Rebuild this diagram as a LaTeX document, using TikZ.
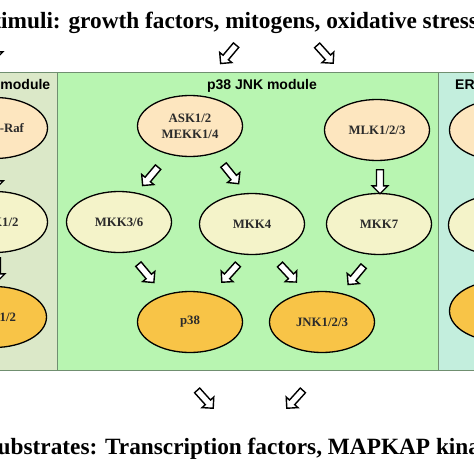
\documentclass[tikz,border=0pt]{standalone}
\usepackage{fontspec}
\setmainfont{Liberation Serif}
\newfontfamily\sansf{Liberation Sans}
\usetikzlibrary{shapes.geometric,shapes.arrows}
\definecolor{peach}{HTML}{FDE6BF}
\definecolor{paleyel}{HTML}{F4F3C9}
\definecolor{orangey}{HTML}{F8C447}
\definecolor{panmid}{HTML}{B8F5B1}
\definecolor{panleft}{HTML}{DBE8C8}
\definecolor{panright}{HTML}{C3EEDD}
\definecolor{panborder}{HTML}{708F70}
\definecolor{txtdark}{HTML}{2B2B2B}
\tikzset{
  ell/.style={ellipse, draw=black, line width=1.3pt, minimum width=105pt, minimum height=61pt,
    inner sep=0pt, font=\fontsize{12.8}{16}\selectfont\bfseries, text=txtdark, align=center},
  topn/.style={ell, fill=peach},
  midn/.style={ell, fill=paleyel},
  botn/.style={ell, fill=orangey},
  blk/.style={single arrow, draw=black, line width=1.4pt, fill=white, minimum height=24pt,
    inner sep=0pt, inner ysep=2.8pt, single arrow head extend=4.4pt},
  panel/.style={draw=panborder, line width=0.8pt},
  ptitle/.style={font=\sansf\fontsize{14}{16}\selectfont\bfseries, inner sep=0pt, anchor=base},
  bigtxt/.style={font=\fontsize{23.3}{26}\selectfont\bfseries, inner sep=0pt, anchor=base west}
}
\begin{document}
\begin{tikzpicture}[x=1pt,y=-1pt]
\useasboundingbox (0,0) rectangle (474,474);
\clip (0,0) rectangle (474,474);
\fill[white] (0,0) rectangle (474,474);
% panels
\filldraw[panel, fill=panleft] (-20,72) rectangle (57,370);
\filldraw[panel, fill=panmid] (57,72) rectangle (438,370);
\filldraw[panel, fill=panright] (438,72) rectangle (500,370);
% titles
\node[bigtxt] (stim) at (1,28) {\llap{St}imuli: growth factors, mitogens, oxidative stress};
\node[bigtxt] (subs) at (-2.5,454) {\llap{S}ubstrates: Transcription factors, MAPKAP kinases};
\node[ptitle] (tmid) at (262,89) {p38 JNK module};
\node[ptitle, anchor=base west] (tl) at (0.3,89) {\llap{ERK1/2 }module};
\node[ptitle, anchor=base west] (tr) at (455,89) {ERK5 module};
% left module nodes
\node[topn] (craf) at (-5,128) {\hspace*{28pt}c-Raf};
\node[midn] (mek) at (-5,222) {MEK1/2};
\node[botn] (erk) at (-6,317) {ERK1/2};
% middle module nodes
\node[topn] (ask) at (190,126) {ASK1/2\\MEKK1/4};
\node[topn] (mlk) at (377,130) {MLK1/2/3};
\node[midn] (mkk36) at (119,222) {MKK3/6};
\node[midn] (mkk4) at (252,224) {MKK4};
\node[midn] (mkk7) at (379,224) {MKK7};
\node[botn] (p38) at (190,322) {p38};
\node[botn] (jnk) at (322,322) {JNK1/2/3};
% right module nodes
\node[topn] (r1) at (502,130) {};
\node[midn] (r2) at (501,225) {};
\node[botn] (r3) at (502,311) {};
% block arrows
\node[blk, rotate=-130] (s1) at (229.5,53) {};
\node[blk, rotate=-48] (s2) at (324,53) {};
\node[blk, rotate=-90] (s0) at (-5,46) {};
\node[blk, rotate=-90] (l1) at (-4.5,175) {};
\node[blk, rotate=-90] (l2) at (-3,268) {};
\node[blk, rotate=-130] (a1) at (151.5,175) {};
\node[blk, rotate=-51] (a2) at (230,173) {};
\node[blk, rotate=-90] (a3) at (380,180) {};
\node[blk, rotate=-50] (a4) at (145,272) {};
\node[blk, rotate=-132] (a5) at (231,272) {};
\node[blk, rotate=-47] (a6) at (287,272) {};
\node[blk, rotate=-130] (a7) at (357,274) {};
\node[blk, rotate=-48] (b1) at (204,398) {};
\node[blk, rotate=-132] (b2) at (296,398) {};
\end{tikzpicture}
\end{document}
